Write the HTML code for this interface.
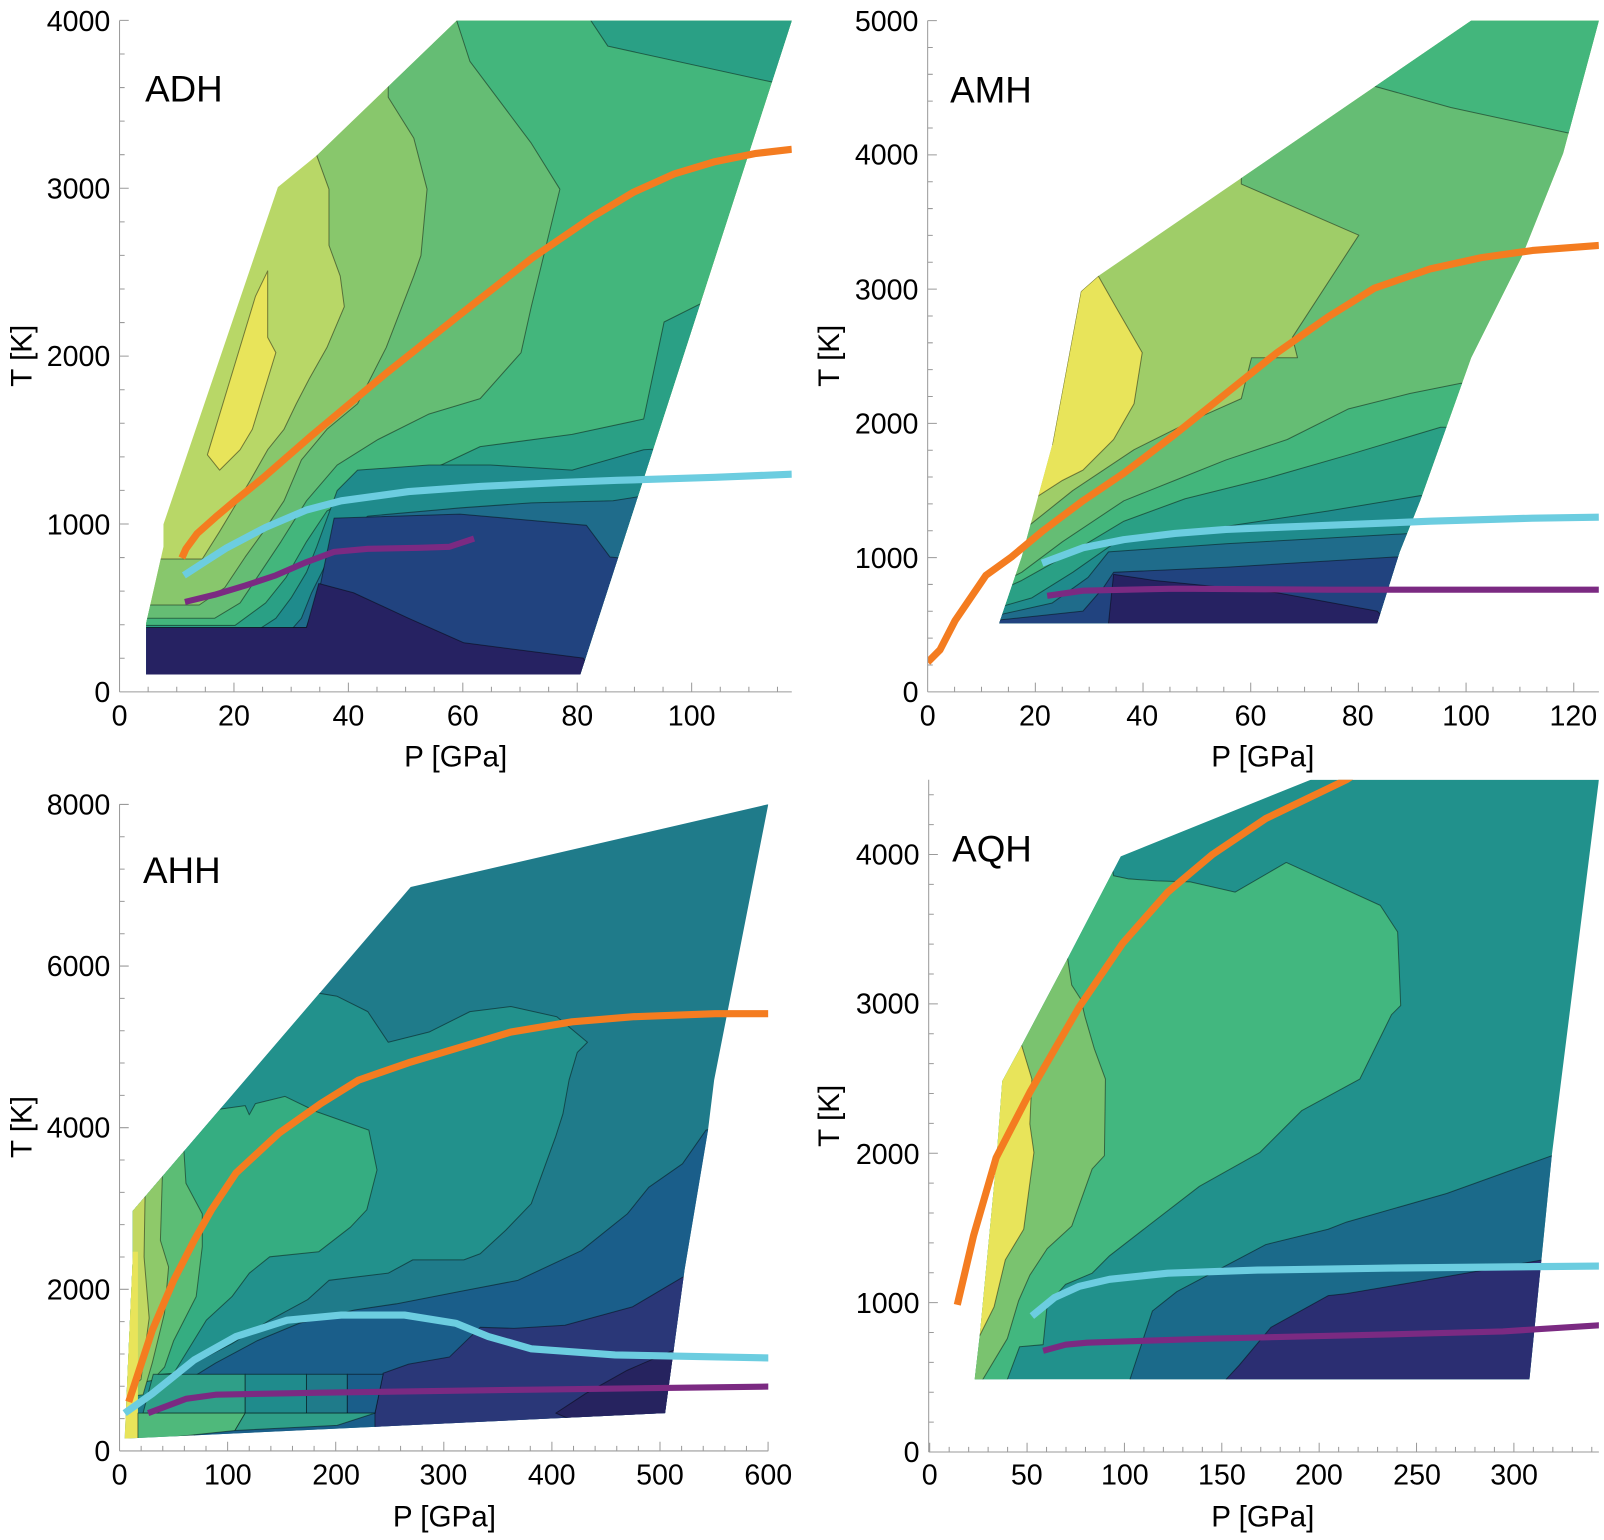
<!DOCTYPE html>
<html><head><meta charset="utf-8"><style>
html,body{margin:0;padding:0;background:#fff}
svg{display:block}
text{font-family:"Liberation Sans",Arial,sans-serif;fill:#000}
.t{font-size:28px}
.al{font-size:29px}
.pl{font-size:36px}
.cl{stroke:rgba(0,0,0,0.45);stroke-width:1;stroke-linejoin:round}
.cv{fill:none;stroke-linecap:butt;stroke-linejoin:round}
</style></head><body>
<svg id="s" width="1604" height="1540" viewBox="0 0 1570 1507" xmlns="http://www.w3.org/2000/svg">
<defs>
<clipPath id="h1"><polygon points="143,660 143,610 160,535 160,513 272,183 310,152 447,20 775,20 568,660"/></clipPath>
<clipPath id="r1"><rect x="117" y="20" width="658" height="657"/></clipPath>
<clipPath id="h2"><polygon points="978,610 1000,545 1030,435 1058,285 1075,270 1440,20 1565,20 1530,150 1490,250 1440,350 1390,490 1370,540 1348,610"/></clipPath>
<clipPath id="r2"><rect x="908" y="20" width="657" height="657"/></clipPath>
<clipPath id="h3"><polygon points="122,1408 130,1230 130,1185 402,868 752,787 699,1057 693,1106 670,1243 651,1383"/></clipPath>
<clipPath id="r3"><rect x="117" y="787" width="635" height="633"/></clipPath>
<clipPath id="h4"><polygon points="954,1350 959,1307 975,1139 981,1058 1000,1023 1045,938 1097,838 1283,763 1565,763 1519,1130 1497,1350"/></clipPath>
<clipPath id="r4"><rect x="909" y="763" width="656" height="658"/></clipPath>
</defs>

<!-- ADH -->
<g clip-path="url(#h1)">
<rect x="100" y="0" width="700" height="700" fill="#b8d767"/>
<polygon fill="#e8e45a" class="cl" points="203,445 250,290 262,265 262,330 270,345 247,420 235,440 215,460"/>
<polygon fill="#88c76c" class="cl" points="100,547 198,547 215,520 230,495 245,470 262,440 278,420 290,395 303,370 320,340 337,300 333,270 322,240 322,185 310,152 300,0 900,0 900,700 100,700"/>
<polygon fill="#65bd74" class="cl" points="100,592 195,592 220,575 240,545 258,520 278,490 295,450 320,420 350,395 378,340 405,270 412,250 418,185 405,135 380,95 380,0 900,0 900,700 100,700"/>
<polygon fill="#43b67c" class="cl" points="100,605 210,605 235,590 255,560 275,530 300,490 330,455 370,430 420,405 470,390 510,345 520,300 548,185 520,140 460,60 447,20 447,0 900,0 900,700 100,700"/>
<polygon fill="#2aa085" class="cl" points="575,15 595,45 755,80 800,80 800,15"/>
<polygon fill="#2aa085" class="cl" points="100,612 230,612 260,590 280,565 300,530 320,500 360,480 400,470 470,437 560,425 630,410 650,315 700,290 800,290 900,700 100,700"/>
<polygon fill="#1f8b8c" class="cl" points="100,618 250,618 270,605 285,585 300,560 310,535 330,480 350,460 420,455 480,455 560,460 630,440 800,430 900,700 100,700"/>
<polygon fill="#1f6c8b" class="cl" points="100,622 280,622 295,605 305,580 320,550 340,522 360,505 450,497 520,492 600,490 650,482 800,482 900,700 100,700"/>
<polygon fill="#21437f" class="cl" points="100,614 300,614 312,580 327,507 450,503 574,514 597,545 700,555 700,700 100,700"/>
<polygon fill="#262262" class="cl" points="100,614 300,614 312,571 346,580 400,605 454,629 571,644 600,700 100,700"/>
</g>
<g clip-path="url(#r1)">
<polyline class="cv" stroke="#f47c20" stroke-width="7" points="178,546 182,537 193,522 211,506 230,490 257,468 304,427 377,366 450,308 520,253 580,212 620,188 660,170 700,158 740,150 775,146"/>
<polyline class="cv" stroke="#6ccde0" stroke-width="7" points="180,563 200,550 222,536 260,516 300,499 334,490 400,481 470,476 550,472 604,470 700,467 775,464"/>
<polyline class="cv" stroke="#7b2a82" stroke-width="6" points="181,589 210,582 240,573 270,563 300,550 327,540 360,537 410,536 440,535 464,527"/>
</g>

<!-- AMH -->
<g clip-path="url(#h2)">
<rect x="900" y="0" width="700" height="700" fill="#9fcd68"/>
<polygon fill="#e8e45a" class="cl" points="1030,435 1058,285 1075,270 1092,300 1118,345 1110,395 1090,430 1060,460 1040,470 900,560 900,400"/>
<polygon fill="#65bd74" class="cl" points="960,560 1000,520 1050,480 1110,440 1170,410 1215,390 1225,350 1270,350 1265,330 1330,230 1215,180 1215,0 1700,0 1700,700 900,700"/>
<polygon fill="#43b67c" class="cl" points="1300,0 1330,80 1420,105 1535,130 1600,130 1600,0"/>
<polygon fill="#43b67c" class="cl" points="960,580 1000,560 1040,530 1100,490 1150,470 1200,450 1260,430 1320,400 1380,385 1430,375 1700,375 1700,700 900,700"/>
<polygon fill="#2aa085" class="cl" points="963,585 1000,568 1050,540 1100,510 1160,488 1240,468 1320,445 1410,418 1700,418 1700,700 900,700"/>
<polygon fill="#1f8b8c" class="cl" points="968,597 1010,585 1050,560 1090,532 1200,515 1300,500 1390,485 1700,485 1700,700 900,700"/>
<polygon fill="#1f6c8b" class="cl" points="972,603 1030,590 1065,565 1085,540 1200,532 1380,522 1700,522 1700,700 900,700"/>
<polygon fill="#21437f" class="cl" points="975,607 1060,598 1080,575 1090,560 1200,555 1365,545 1700,545 1700,700 900,700"/>
<polygon fill="#262262" class="cl" points="1085,610 1090,562 1130,568 1250,580 1348,598 1360,610 1360,700 1080,700"/>
</g>
<g clip-path="url(#r2)">
<polyline class="cv" stroke="#f47c20" stroke-width="7" points="908,648 920,636 935,607 950,585 965,563 990,545 1020,520 1060,490 1100,463 1150,425 1200,385 1250,345 1300,310 1345,282 1400,263 1450,252 1500,245 1565,240"/>
<polyline class="cv" stroke="#6ccde0" stroke-width="7" points="1020,551 1060,536 1100,528 1150,522 1200,518 1300,514 1400,510 1500,507 1565,506"/>
<polyline class="cv" stroke="#7b2a82" stroke-width="6" points="1025,583 1060,578 1150,576 1300,577 1565,577"/>
</g>

<!-- AHH -->
<g clip-path="url(#h3)">
<rect x="100" y="780" width="700" height="700" fill="#1f7b8a"/>
<polygon fill="#22918c" class="cl" points="190,1334 227,1315 264,1292 301,1272 322,1253 380,1246 404,1233 454,1233 470,1227 495,1204 520,1178 532,1145 544,1112 551,1090 557,1057 565,1030 575,1020 545,995 500,985 460,990 420,1010 380,1020 360,990 330,975 300,970 260,990 200,1050 100,1150 100,1400"/>
<polygon fill="#35ad81" class="cl" points="211,1086 240,1082 244,1091 250,1080 279,1073 310,1088 361,1106 369,1145 359,1184 343,1201 312,1225 264,1230 244,1246 227,1269 202,1292 186,1318 170,1344 100,1350 100,1080"/>
<polygon fill="#5cbd75" class="cl" points="180,1126 182,1158 198,1188 198,1220 192,1269 170,1312 161,1338 149,1351 100,1360 100,1100"/>
<polygon fill="#8ec96a" class="cl" points="159,1148 157,1214 165,1240 161,1285 149,1334 140,1365 100,1370 100,1140"/>
<polygon fill="#c2d862" class="cl" points="142,1170 141,1230 146,1290 138,1350 100,1380 100,1160"/>
<polygon fill="#e8e45a" points="100,1225 135,1225 135,1420 100,1420"/>
<polygon fill="#1a5e8a" class="cl" points="190,1347 211,1334 252,1312 293,1295 347,1282 388,1276 450,1264 507,1253 569,1224 614,1188 635,1162 668,1139 691,1106 720,1100 720,1450 190,1450"/>
<polygon fill="#2a3778" class="cl" points="367,1383 375,1344 400,1335 440,1328 470,1299 503,1300 553,1297 619,1279 668,1250 720,1240 720,1450 367,1450"/>
<polygon fill="#26235f" class="cl" points="544,1383 573,1364 614,1341 660,1321 700,1300 700,1450"/>
<polygon fill="#2f9f88" class="cl" points="150,1345 240,1345 240,1383 140,1383"/>
<polygon fill="#1f8b8c" class="cl" points="240,1345 300,1345 300,1383 240,1383"/>
<polygon fill="#1f7b8a" class="cl" points="300,1345 340,1345 340,1383 300,1383"/>
<polygon fill="#1a5e8a" class="cl" points="340,1345 375,1345 367,1383 340,1383"/>
<polygon fill="#4fb97b" class="cl" points="135,1383 240,1383 230,1400 135,1410"/>
<polygon fill="#2f9f88" class="cl" points="240,1383 367,1383 330,1395 230,1400"/>
</g>
<g clip-path="url(#r3)">
<polyline class="cv" stroke="#f47c20" stroke-width="7" points="126,1372 149,1302 170,1253 190,1214 207,1184 231,1148 273,1109 314,1080 351,1057 400,1040 450,1025 500,1010 560,1000 620,995 700,992 752,992"/>
<polyline class="cv" stroke="#6ccde0" stroke-width="7" points="122,1383 149,1364 190,1331 231,1308 281,1292 334,1287 396,1287 446,1295 478,1308 520,1320 602,1326 754,1329"/>
<polyline class="cv" stroke="#7b2a82" stroke-width="6" points="145,1383 182,1369 211,1365 314,1363 520,1360 754,1357"/>
</g>

<!-- AQH -->
<g clip-path="url(#h4)">
<rect x="900" y="750" width="700" height="700" fill="#21918c"/>
<polygon fill="#42b77f" class="cl" points="1090,857 1104,860 1132,862 1165,863 1209,873 1259,844 1351,886 1368,912 1371,984 1362,993 1331,1056 1274,1087 1233,1128 1174,1161 1126,1198 1086,1229 1069,1246 1043,1257 1025,1277 1021,1316 998,1318 986,1350 940,1400 940,830 1085,830"/>
<polygon fill="#7ac36f" class="cl" points="1045,938 1049,964 1058,978 1062,995 1071,1026 1082,1056 1081,1131 1069,1144 1049,1200 1025,1222 1008,1248 997,1273 986,1310 962,1350 900,1400 900,900 1040,900"/>
<polygon fill="#e8e45a" class="cl" points="1000,1023 1010,1056 1008,1100 1012,1128 1002,1203 984,1233 973,1279 959,1307 900,1310 900,1020"/>
<polygon fill="#1b6a8a" class="cl" points="1106,1350 1128,1283 1152,1264 1239,1218 1300,1203 1318,1196 1416,1168 1519,1131 1600,1130 1600,1400 1100,1400"/>
<polygon fill="#2b2e72" class="cl" points="1200,1350 1213,1336 1244,1299 1300,1268 1318,1266 1383,1255 1510,1233 1600,1230 1600,1400 1190,1400"/>
</g>
<g clip-path="url(#r4)">
<polyline class="cv" stroke="#f47c20" stroke-width="7" points="937,1277 953,1209 975,1133 1008,1069 1056,986 1099,923 1143,873 1187,836 1239,801 1318,763 1330,755"/>
<polyline class="cv" stroke="#6ccde0" stroke-width="7" points="1010,1288 1032,1270 1056,1259 1086,1252 1143,1246 1231,1243 1362,1241 1566,1239"/>
<polyline class="cv" stroke="#7b2a82" stroke-width="6" points="1021,1322 1043,1316 1064,1314 1187,1310 1318,1307 1471,1303 1566,1297"/>
</g>

<g id="axes" stroke="#9a9a9a" stroke-width="1" fill="none"></g>

<!-- labels -->
<g class="t" text-anchor="middle">
<text x="117" y="710">0</text><text x="229" y="710">20</text><text x="341" y="710">40</text><text x="453" y="710">60</text><text x="565" y="710">80</text><text x="677" y="710">100</text>
<text x="908" y="710">0</text><text x="1013" y="710">20</text><text x="1118" y="710">40</text><text x="1224" y="710">60</text><text x="1329" y="710">80</text><text x="1435" y="710">100</text><text x="1540" y="710">120</text>
<text x="117" y="1453">0</text><text x="223" y="1453">100</text><text x="329" y="1453">200</text><text x="434" y="1453">300</text><text x="540" y="1453">400</text><text x="646" y="1453">500</text><text x="752" y="1453">600</text>
<text x="910" y="1453">0</text><text x="1005" y="1453">50</text><text x="1101" y="1453">100</text><text x="1196" y="1453">150</text><text x="1291" y="1453">200</text><text x="1387" y="1453">250</text><text x="1482" y="1453">300</text>
</g>
<g class="t" text-anchor="end">
<text x="108" y="687">0</text><text x="108" y="523">1000</text><text x="108" y="358">2000</text><text x="108" y="194">3000</text><text x="108" y="30">4000</text>
<text x="899" y="687">0</text><text x="899" y="556">1000</text><text x="899" y="424">2000</text><text x="899" y="293">3000</text><text x="899" y="161">4000</text><text x="899" y="30">5000</text>
<text x="108" y="1430">0</text><text x="108" y="1272">2000</text><text x="108" y="1113">4000</text><text x="108" y="955">6000</text><text x="108" y="797">8000</text>
<text x="900" y="1431">0</text><text x="900" y="1285">1000</text><text x="900" y="1139">2000</text><text x="900" y="992">3000</text><text x="900" y="846">4000</text>
</g>
<g class="al" text-anchor="middle">
<text x="446" y="750">P [GPa]</text><text x="1236" y="750">P [GPa]</text>
<text x="435" y="1494">P [GPa]</text><text x="1236" y="1494">P [GPa]</text>
<text transform="translate(31,348) rotate(-90)">T [K]</text>
<text transform="translate(821,348) rotate(-90)">T [K]</text>
<text transform="translate(31,1103) rotate(-90)">T [K]</text>
<text transform="translate(821,1092) rotate(-90)">T [K]</text>
</g>
<g class="pl">
<text x="142" y="99">ADH</text><text x="930" y="100">AMH</text><text x="140" y="864">AHH</text><text x="932" y="843">AQH</text>
</g>
</svg>
<script>
(function(){
var g=document.getElementById('axes'),d='';
function ax(x0,x1,y0,y1,px0,ppx,xmaj,xmin,xmax,py0,ppy,ymaj,ymin,ymax){
 d+='M'+x0+' '+y0+'L'+x0+' '+y1+'M'+x0+' '+y0+'L'+x1+' '+y0;
 for(var v=0;v<=xmax+1e-6;v+=xmin){var x=px0+v*ppx;if(x>x1+0.5)break;var L=(Math.abs(v/xmaj-Math.round(v/xmaj))<1e-6)?9:5;d+='M'+x+' '+y0+'L'+x+' '+(y0-L);}
 for(var v=0;v<=ymax+1e-6;v+=ymin){var y=py0-v*ppy;if(y<y1-0.5)break;var L=(Math.abs(v/ymaj-Math.round(v/ymaj))<1e-6)?9:5;d+='M'+x0+' '+y+'L'+(x0+L)+' '+y;}
}
ax(117,775,677,20,117,5.6,20,5,120,677,0.1643,1000,200,4000);
ax(908,1565,677,20,908,5.27,20,5,125,677,0.1314,1000,200,5000);
ax(117,752,1420,787,117,1.058,100,20,600,1420,0.0791,2000,400,8000);
ax(909,1565,1421,763,910,1.906,50,10,345,1421,0.1462,1000,200,4500);
var p=document.createElementNS('http://www.w3.org/2000/svg','path');p.setAttribute('d',d);g.appendChild(p);
})();
</script>
</body></html>
